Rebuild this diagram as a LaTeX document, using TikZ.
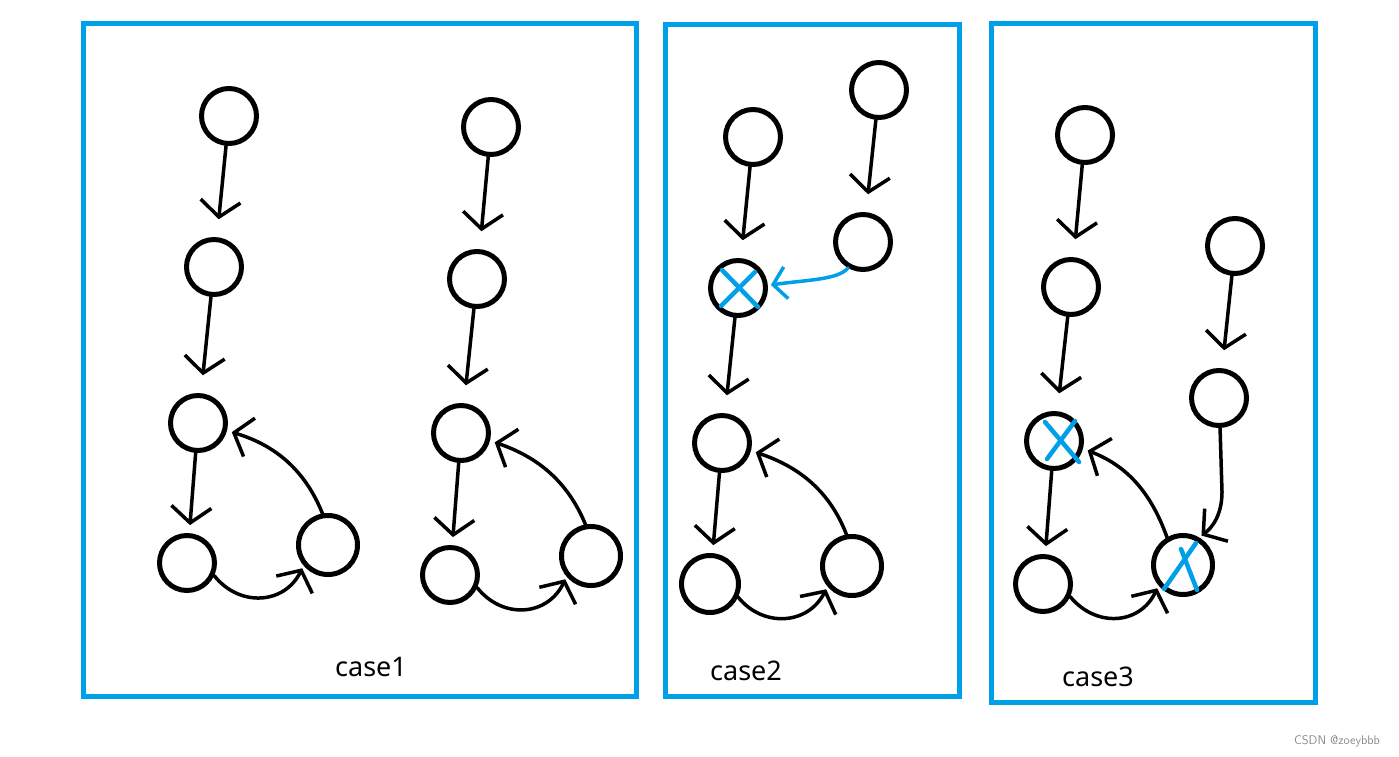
\documentclass[tikz,border=0pt]{standalone}
\usepackage{fontspec}
\setmainfont{Noto Sans}
\usetikzlibrary{arrows.meta}
\definecolor{boxblue}{HTML}{00A0E9}
\definecolor{wmgrey}{HTML}{8A8A8A}
\tikzset{
  st/.style={circle,draw=black,line width=5pt,minimum size=55pt,inner sep=0pt},
  casebox/.style={draw=boxblue,line width=5pt},
  arr/.style={draw=black,line width=3.5pt,line cap=round,
    -{Straight Barb[length=16pt,width=40pt,line width=3.5pt]},shorten >=8pt},
  barr/.style={draw=boxblue,line width=3.5pt,line cap=round,
    -{Straight Barb[length=13pt,width=32pt,line width=3.5pt]},shorten >=3pt},
  xmark/.style={draw=boxblue,line width=4.5pt,line cap=round},
  lbl/.style={font=\fontsize{27}{31}\selectfont,inner sep=0pt},
}
\begin{document}
\begin{tikzpicture}[x=1pt,y=-1pt]
\useasboundingbox (0,0) rectangle (1399,757);
% boxes
\draw[casebox] (83,24) rectangle (636,696);
\draw[casebox] (665,25) rectangle (959,696);
\draw[casebox] (991,24) rectangle (1315,702);
% case1 left
\node[st] (A1) at (229,116) {};
\node[st] (A2) at (214,267) {};
\node[st] (A3) at (198,423) {};
\node[st] (A4) at (187,563) {};
\node[st,minimum size=59pt] (A5) at (328,545) {};
\draw[arr,shorten >=18pt] (A1) -- (A2);
\draw[arr,shorten >=18pt] (A2) -- (A3);
\draw[arr] (A3) -- (A4);
\draw[arr,shorten >=3pt] (A4.-25) .. controls (240,608) and (285,604) .. (A5.-140);
\draw[arr,shorten >=5pt] (A5.100) .. controls (305,470) and (275,445) .. (A3.-15);
% case1 right
\node[st] (B1) at (491,127) {};
\node[st] (B2) at (477,279) {};
\node[st] (B3) at (461,433) {};
\node[st] (B4) at (450,575) {};
\node[st,minimum size=59pt] (B5) at (591,556) {};
\draw[arr,shorten >=18pt] (B1) -- (B2);
\draw[arr,shorten >=18pt] (B2) -- (B3);
\draw[arr] (B3) -- (B4);
\draw[arr,shorten >=3pt] (B4.-25) .. controls (503,620) and (548,616) .. (B5.-140);
\draw[arr,shorten >=5pt] (B5.100) .. controls (568,482) and (538,457) .. (B3.-15);
% case2
\node[st] (C1) at (753,137) {};
\node[st] (C2) at (879,90) {};
\node[st] (C3) at (863,242) {};
\node[st] (C4) at (738,288) {};
\node[st] (C5) at (722,443) {};
\node[st,minimum size=57pt] (C6) at (710,584) {};
\node[st,minimum size=59pt] (C7) at (852,566) {};
\draw[arr,shorten >=18pt] (C1) -- (C4);
\draw[arr,shorten >=18pt] (C2) -- (C3);
\draw[arr,shorten >=18pt] (C4) -- (C5);
\draw[arr] (C5) -- (C6);
\draw[barr] (C3.-120) .. controls (838,280) and (805,280) .. (C4.5);
\draw[xmark] (722,270) -- (758,307);
\draw[xmark] (755,272) -- (721,306);
\draw[arr,shorten >=3pt] (C6.-25) .. controls (763,628) and (808,625) .. (C7.-140);
\draw[arr,shorten >=5pt] (C7.100) .. controls (830,492) and (800,467) .. (C5.-15);
% case3
\node[st] (D1) at (1085,135) {};
\node[st] (D2) at (1071,287) {};
\node[st] (D3) at (1054,441) {};
\node[st] (D4) at (1043,584) {};
\node[st] (D5) at (1235,246) {};
\node[st] (D6) at (1219,398) {};
\node[st,minimum size=59pt] (D7) at (1183,565) {};
\draw[arr,shorten >=18pt] (D1) -- (D2);
\draw[arr,shorten >=18pt] (D2) -- (D3);
\draw[arr] (D3) -- (D4);
\draw[arr,shorten >=18pt] (D5) -- (D6);
\draw[arr,shorten >=3pt] (D6.-88) -- (1222,492) .. controls (1222,515) and (1212,528) .. (D7.60);
\draw[arr,shorten >=3pt] (D4.-25) .. controls (1096,628) and (1140,625) .. (D7.-140);
\draw[arr,shorten >=5pt] (D7.120) .. controls (1150,490) and (1125,465) .. (D3.-15);
\draw[xmark] (1045,422) -- (1079,462);
\draw[xmark] (1075,421) -- (1047,459);
\draw[xmark] (1196,543) -- (1164,589);
\draw[xmark] (1181,549) -- (1197,590);
% labels
\node[lbl] (L1) at (371,667) {case1};
\node[lbl] (L2) at (746,671) {case2};
\node[lbl] (L3) at (1098,677) {case3};
\node[font=\fontsize{12.5}{15}\selectfont\sffamily,text=wmgrey,inner sep=0pt] (W) at (1337,741) {CSDN @zoeybbb};
\end{tikzpicture}
\end{document}
